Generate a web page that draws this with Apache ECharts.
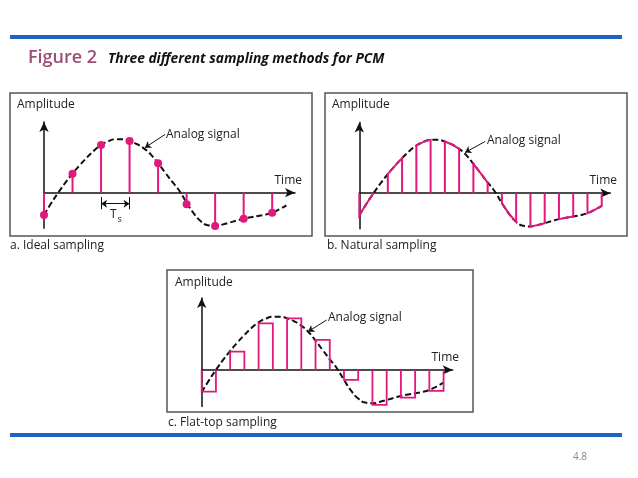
<!DOCTYPE html>
<html><head><meta charset="utf-8">
<script src="https://cdn.jsdelivr.net/npm/echarts@6/dist/echarts.min.js"></script>
<style>html,body{margin:0;padding:0;background:#fff}#c{width:638px;height:478px}</style>
</head><body><div id="c"></div>
<script>
// ---- data ----
var analogT = [0,0.25,0.5,0.75,1,1.25,1.5,1.75,2,2.25,2.5,2.75,3,3.25,3.5,3.75,4,4.25,4.5,4.75,5,5.25,5.5,5.75,6,6.25,6.5,6.75,7,7.25,7.5,7.75,8,8.25,8.5];
var analogA = [-0.67,-0.32,0.0,0.3,0.57,0.82,1.05,1.26,1.43,1.54,1.6,1.6,1.55,1.46,1.33,1.14,0.88,0.6,0.32,0.05,-0.3,-0.62,-0.86,-0.98,-1.0,-0.96,-0.9,-0.84,-0.78,-0.74,-0.7,-0.66,-0.6,-0.5,-0.38];
var sampleT = [0,1,2,3,4,5,6,7,8];
var idealVals = [-0.67,0.57,1.43,1.55,0.88,-0.35,-1.0,-0.78,-0.6];
var flatVals = [-0.65,0.55,1.4,1.55,0.9,-0.3,-1.05,-0.83,-0.63];
var pulseWidth = 0.5;
var panelTitles = ['a. Ideal sampling','b. Natural sampling','c. Flat-top sampling'];

var PINK = '#E2187F';
var FONT = '"Open Sans", "Noto Sans", sans-serif';
var analogData = analogT.map(function(t,i){return [t, analogA[i]];});

function xAx(idx, max){
  return {gridIndex: idx, type:'value', min:0, max:max,
    axisLine:{show:true,onZero:true,symbol:['none','arrow'],symbolSize:[7,10],lineStyle:{color:'#111',width:1.5}},
    axisTick:{show:false}, axisLabel:{show:false}, splitLine:{show:false}};
}
function yAx(idx, min, max){
  return {gridIndex: idx, type:'value', min:min, max:max,
    axisLine:{show:true,onZero:true,symbol:['none','arrow'],symbolSize:[7,10],lineStyle:{color:'#111',width:1.5}},
    axisTick:{show:false}, axisLabel:{show:false}, splitLine:{show:false}};
}
function analogSeries(idx, leader){
  var ml = [[{coord:leader[0], symbol:'arrow'},{coord:leader[1], symbol:'none'}]];
  return {type:'line', xAxisIndex:idx, yAxisIndex:idx, data:analogData, smooth:true, showSymbol:false, symbol:'none',
    lineStyle:{color:'#111', width:2, type:[6,3]}, z:2,
    markLine:{silent:true, symbol:'none', symbolSize:6, label:{show:false},
      lineStyle:{color:'#111', width:1, type:'solid'}, data: ml}};
}
var sA = analogSeries(0, [[3.54,1.35],[4.25,1.75]]);
sA.markLine.data.push(
  [{coord:[2,-0.13]},{coord:[2,-0.5]}],
  [{coord:[3,-0.13]},{coord:[3,-0.5]}],
  [{coord:[2,-0.33], symbol:'arrow'},{coord:[3,-0.33], symbol:'arrow'}]
);

var option = {
  animation:false,
  grid:[
    {left:44, top:122, width:251, height:106.3},
    {left:359.3, top:122.5, width:251, height:106.3},
    {left:201.7, top:298, width:251, height:108.6}
  ],
  xAxis:[xAx(0,8.8), xAx(1,8.8), xAx(2,8.82)],
  yAxis:[yAx(0,-1.07,2.12), yAx(1,-1.07,2.12), yAx(2,-1.1,2.16)],
  series:[
    sA,
    {type:'custom', xAxisIndex:0, yAxisIndex:0, z:3,
      data: sampleT.map(function(t,i){return [t, idealVals[i]];}),
      renderItem:function(params, api){
        var t=api.value(0), v=api.value(1);
        var p0=api.coord([t,0]), p1=api.coord([t,v]);
        return {type:'line', shape:{x1:p0[0],y1:p0[1],x2:p1[0],y2:p1[1]}, style:{stroke:PINK, lineWidth:2}};
      }},
    {type:'scatter', xAxisIndex:0, yAxisIndex:0, z:4, symbolSize:8,
      itemStyle:{color:PINK, opacity:1},
      data: sampleT.map(function(t,i){return [t, idealVals[i]];})},
    analogSeries(1, [[3.71,1.22],[4.41,1.55]]),
    {type:'custom', xAxisIndex:1, yAxisIndex:1, z:3,
      data: sampleT.map(function(t){return [t];}),
      renderItem:function(params, api){
        var t=api.value(0);
        var pts=[api.coord([t,0])];
        for (var j=0;j<analogT.length;j++){
          if (analogT[j]>=t-1e-9 && analogT[j]<=t+pulseWidth+1e-9) pts.push(api.coord([analogT[j], analogA[j]]));
        }
        pts.push(api.coord([t+pulseWidth,0]));
        return {type:'polyline', shape:{points:pts}, style:{stroke:PINK, lineWidth:2, fill:null}};
      }},
    analogSeries(2, [[3.74,1.15],[4.39,1.5]]),
    {type:'custom', xAxisIndex:2, yAxisIndex:2, z:3,
      data: sampleT.map(function(t,i){return [t, flatVals[i]];}),
      renderItem:function(params, api){
        var t=api.value(0), v=api.value(1);
        var pts=[api.coord([t,0]), api.coord([t,v]), api.coord([t+pulseWidth,v]), api.coord([t+pulseWidth,0])];
        return {type:'polyline', shape:{points:pts}, style:{stroke:PINK, lineWidth:1.8, fill:null}};
      }}
  ],
  graphic:[
    {type:'rect', shape:{x:10,y:35,width:612,height:4}, style:{fill:'#1F63C6'}},
    {type:'rect', shape:{x:10,y:433,width:612,height:4}, style:{fill:'#1F63C6'}},
    {type:'text', style:{text:'Figure 2', x:28, y:58, font:'600 18px '+FONT, fill:'#9B4C77', textVerticalAlign:'middle'}},
    {type:'text', style:{text:'Three different sampling methods for PCM', x:108, y:59.5, font:'italic bold 13.8px '+FONT, fill:'#111', textVerticalAlign:'middle'}},
    {type:'text', style:{text:'4.8', x:573, y:457, font:'10px '+FONT, fill:'#888', textVerticalAlign:'middle'}},
    {type:'rect', shape:{x:10,y:93,width:302,height:143}, style:{fill:null, stroke:'#555', lineWidth:1.5}},
    {type:'rect', shape:{x:325,y:93,width:302,height:143}, style:{fill:null, stroke:'#555', lineWidth:1.5}},
    {type:'rect', shape:{x:167,y:270,width:306,height:142}, style:{fill:null, stroke:'#555', lineWidth:1.5}},
    {type:'text', style:{text:panelTitles[0], x:10, y:246, font:'12px '+FONT, fill:'#222', textVerticalAlign:'middle'}},
    {type:'text', style:{text:panelTitles[1], x:327, y:246, font:'12px '+FONT, fill:'#222', textVerticalAlign:'middle'}},
    {type:'text', style:{text:panelTitles[2], x:168, y:423, font:'12px '+FONT, fill:'#222', textVerticalAlign:'middle'}},
    {type:'text', style:{text:'Amplitude', x:17, y:105, font:'12px '+FONT, fill:'#222', textVerticalAlign:'middle'}},
    {type:'text', style:{text:'Amplitude', x:332, y:105, font:'12px '+FONT, fill:'#222', textVerticalAlign:'middle'}},
    {type:'text', style:{text:'Amplitude', x:175, y:283, font:'12px '+FONT, fill:'#222', textVerticalAlign:'middle'}},
    {type:'text', style:{text:'Time', x:302, y:181, font:'12px '+FONT, fill:'#222', textAlign:'right', textVerticalAlign:'middle'}},
    {type:'text', style:{text:'Time', x:617, y:181, font:'12px '+FONT, fill:'#222', textAlign:'right', textVerticalAlign:'middle'}},
    {type:'text', style:{text:'Time', x:459, y:358, font:'12px '+FONT, fill:'#222', textAlign:'right', textVerticalAlign:'middle'}},
    {type:'text', style:{text:'Analog signal', x:166, y:135, font:'12px '+FONT, fill:'#222', textVerticalAlign:'middle'}},
    {type:'text', style:{text:'Analog signal', x:487, y:141, font:'12px '+FONT, fill:'#222', textVerticalAlign:'middle'}},
    {type:'text', style:{text:'Analog signal', x:328, y:318, font:'12px '+FONT, fill:'#222', textVerticalAlign:'middle'}},
    {type:'text', style:{text:'T', x:110, y:215, font:'12px '+FONT, fill:'#222', textVerticalAlign:'middle'}},
    {type:'text', style:{text:'s', x:117.5, y:219, font:'9px '+FONT, fill:'#222', textVerticalAlign:'middle'}}
  ]
};
var chart = echarts.init(document.getElementById('c'), null, {renderer:'canvas'});
chart.setOption(option);
</script></body></html>
